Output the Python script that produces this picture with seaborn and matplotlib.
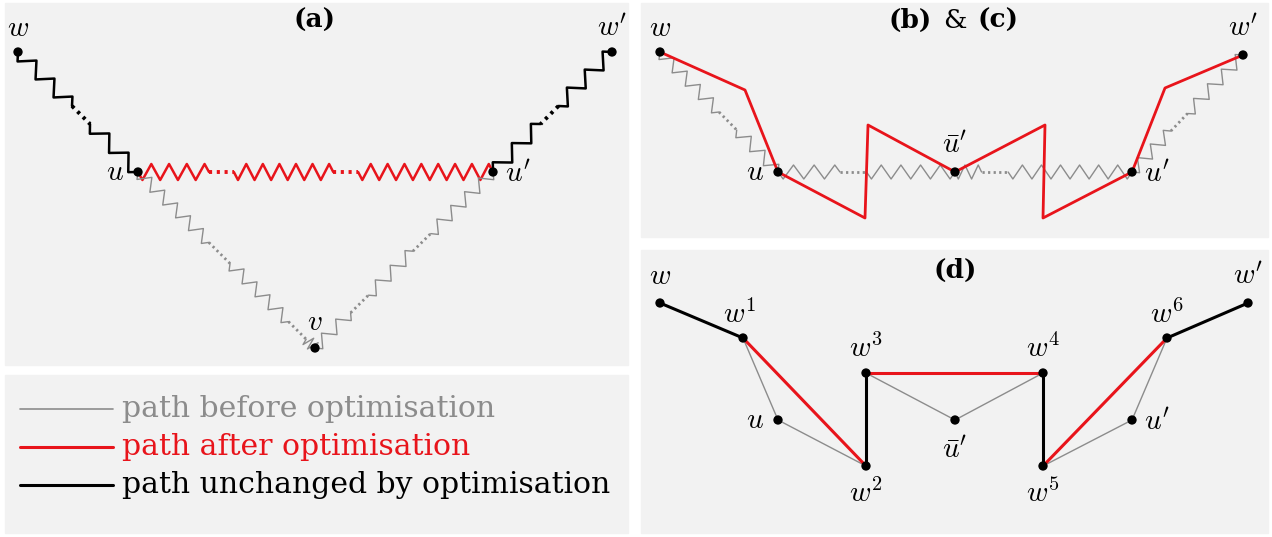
import numpy as np
import matplotlib
matplotlib.use("Agg")
import matplotlib.pyplot as plt
import seaborn as sns
from matplotlib.patches import Rectangle

sns.set_theme(style="white")
plt.rcParams['mathtext.fontset'] = 'cm'
plt.rcParams['font.family'] = ['DejaVu Serif']
plt.rcParams['text.color'] = 'black'

GRAY = "#8c8c8c"; RED = "#e8141b"; BLACK = "#000000"; BG = "#f2f2f2"

# panel (a) nodes
a_nodes = {"w": (18, 52), "u": (138, 172), "u'": (493, 172), "w'": (612, 52), "v": (315, 348)}
# panel (b)&(c) nodes and red path
b_nodes = {"w": (660, 52), "u": (778, 172), "ubar": (955, 172), "u'": (1132, 172), "w'": (1243, 55)}
b_red_x = [660, 745, 778, 865, 868, 955, 1045, 1043, 1132, 1165, 1243]
b_red_y = [52, 90, 172, 218, 125, 172, 125, 218, 172, 88, 55]
# panel (d)
d_names = ["w", "w1", "u", "w2", "w3", "ubar", "w4", "w5", "u'", "w6", "w'"]
d_x = [660, 743, 778, 866, 866, 955, 1043, 1043, 1132, 1167, 1248]
d_y = [303, 338, 420, 466, 373, 420, 373, 466, 420, 338, 303]
d_black = [("w", "w1"), ("w2", "w3"), ("w4", "w5"), ("w6", "w'")]
d_red = [("w1", "w2"), ("w3", "w4"), ("w5", "w6")]
d_gray = [("w1", "u"), ("u", "w2"), ("w3", "ubar"), ("ubar", "w4"), ("w5", "u'"), ("u'", "w6")]
legend_labels = ["path before optimisation", "path after optimisation", "path unchanged by optimisation"]

fig = plt.figure(figsize=(12.72, 5.37), dpi=100)
ax = fig.add_axes([0, 0, 1, 1])
ax.set_xlim(0, 1272); ax.set_ylim(537, 0); ax.axis("off")

for (x0, y0, x1, y1) in [(5, 3, 628, 365), (5, 375, 628, 533), (641, 3, 1268, 237), (641, 250, 1268, 533)]:
    ax.add_patch(Rectangle((x0, y0), x1 - x0, y1 - y0, color=BG, zorder=0))

def zig(p, q, n, amp, color, lw):
    p = np.array(p, float); q = np.array(q, float)
    d = q - p; L = np.hypot(*d); t = d / L; nrm = np.array([-t[1], t[0]])
    pts = [p]
    for i in range(n):
        s = (i + 0.5) / n
        sgn = 1 if i % 2 == 0 else -1
        pts.append(p + d * s + nrm * amp * sgn)
    pts.append(q)
    pts = np.array(pts)
    ax.plot(pts[:, 0], pts[:, 1], color=color, lw=lw, zorder=2)

def zpath(p, q, color, lw, gaps=((0.45, 0.6),), amp=6, density=9):
    p = np.array(p, float); q = np.array(q, float)
    L = np.hypot(*(q - p))
    cuts = [0.0]
    for g in gaps:
        cuts += list(g)
    cuts.append(1.0)
    for i in range(0, len(cuts), 2):
        a, b = p + (q - p) * cuts[i], p + (q - p) * cuts[i + 1]
        n = max(4, int(L * (cuts[i + 1] - cuts[i]) / density))
        zig(a, b, n, amp, color, lw)
        if i + 2 < len(cuts):
            c, e = b, p + (q - p) * cuts[i + 2]
            ax.plot([c[0], e[0]], [c[1], e[1]], color=color, lw=lw + 1, ls=(0, (0.8, 1.2)), zorder=2)

A = a_nodes
zpath(A["w"], A["u"], BLACK, 1.8, gaps=((0.45, 0.6),), amp=7, density=12)
zpath(A["w'"], A["u'"], BLACK, 1.8, gaps=((0.45, 0.6),), amp=7, density=12)
zpath(A["u"], A["u'"], RED, 1.8, gaps=((0.2, 0.27), (0.55, 0.62)), amp=8, density=8)
zpath(A["u"], A["v"], GRAY, 1.0, gaps=((0.4, 0.52), (0.85, 0.95)), amp=6, density=9)
zpath(A["v"], A["u'"], GRAY, 1.0, gaps=((0.2, 0.3), (0.55, 0.65)), amp=6, density=9)

B = b_nodes
zpath(B["w"], B["u"], GRAY, 1.0, gaps=((0.5, 0.65),), amp=6, density=9)
zpath(B["u"], B["ubar"], GRAY, 1.0, gaps=((0.35, 0.5),), amp=7, density=9)
zpath(B["ubar"], B["u'"], GRAY, 1.0, gaps=((0.15, 0.3),), amp=7, density=9)
zpath(B["u'"], B["w'"], GRAY, 1.0, gaps=((0.35, 0.5),), amp=6, density=9)
ax.plot(b_red_x, b_red_y, color=RED, lw=2, zorder=3)

D = dict(zip(d_names, zip(d_x, d_y)))
for segs, c, lw in [(d_gray, GRAY, 1.0), (d_black, BLACK, 2.2), (d_red, RED, 2.2)]:
    for s, e in segs:
        ax.plot([D[s][0], D[e][0]], [D[s][1], D[e][1]], color=c, lw=lw, zorder=2)

for nodes in (A, B, D):
    xs = [p[0] for p in nodes.values()]; ys = [p[1] for p in nodes.values()]
    sns.scatterplot(x=xs, y=ys, ax=ax, color="black", s=45, zorder=5, legend=False, edgecolor="none")

fs = 21
def lab(x, y, s, ha="center", va="center"):
    ax.text(x, y, s, fontsize=fs, ha=ha, va=va, zorder=6, color="black")

def title(x, y, s, ha="center", bold=True):
    ax.text(x, y, s, fontsize=19, ha=ha, va="center", fontweight="bold" if bold else "normal",
            family="DejaVu Serif", color="black")

lab(18, 28, r"$w$"); lab(612, 28, r"$w'$"); lab(115, 172, r"$u$"); lab(518, 174, r"$u'$"); lab(315, 322, r"$v$")
title(315, 20, "(a)")
lab(660, 28, r"$w$"); lab(1243, 28, r"$w'$"); lab(755, 172, r"$u$"); lab(1157, 174, r"$u'$"); lab(955, 145, r"$\bar{u}'$")
title(932, 20, "(b)", ha="right")
title(955, 20, "&", bold=False)
title(978, 20, "(c)", ha="left")
title(955, 270, "(d)")
lab(660, 276, r"$w$"); lab(1248, 276, r"$w'$"); lab(740, 314, r"$w^1$"); lab(755, 420, r"$u$")
lab(866, 493, r"$w^2$"); lab(866, 348, r"$w^3$"); lab(955, 450, r"$\bar{u}'$"); lab(1043, 348, r"$w^4$")
lab(1043, 493, r"$w^5$"); lab(1157, 422, r"$u'$"); lab(1167, 314, r"$w^6$")

for i, (t, c) in enumerate(zip(legend_labels, [GRAY, RED, BLACK])):
    y = 409 + i * 38
    ax.plot([20, 113], [y, y], color=c, lw=1.2 if c == GRAY else 2.2)
    ax.text(122, y, t, color=c, fontsize=21.5, ha="left", va="center", family="DejaVu Serif")

fig.savefig("out.png", dpi=100)
